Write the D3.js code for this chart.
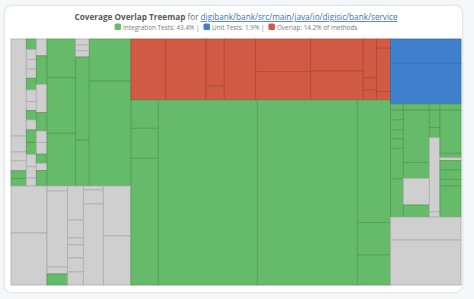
<!DOCTYPE html>
<html>
<head>
<meta charset="utf-8">
<script src="https://cdn.jsdelivr.net/npm/d3@7"></script>
<style>
  html, body { margin: 0; padding: 0; background: #f6f7f9; }
  body { width: 474px; height: 299px; overflow: hidden; font-family: "Open Sans", "Noto Sans", sans-serif; }
  .card { position: absolute; left: 5px; top: 6px; width: 457px; height: 286px; background: #fff;
          border-radius: 7px; box-shadow: 0 0 3px rgba(0,0,0,0.18); }
  svg { position: absolute; left: 0; top: 0; }
</style>
</head>
<body>
<div class="card"></div>
<div id="chart"></div>
<script>
// status codes: I = integration only, U = unit only, O = both (overlap), N = not covered
const statusColor = {I: "#66bb6a", U: "#3f80cc", O: "#d05a42", N: "#cfcfcf"};

const titleText = "Coverage Overlap Treemap";
const titlePath = "digibank/bank/src/main/java/io/digisic/bank/service";
const legendItems = [
    {key: "I", label: "Integration Tests: 43.4% |"},
    {key: "U", label: "Unit Tests: 1.9% |"},
    {key: "O", label: "Overlap: 14.2% of methods"}
];

// method weights, grouped by class -> column of methods
const leftTop = [
    [[371,'N'],[61,'N'],[34,'N'],[38,'N'],[29,'I'],[29,'I']],
    [[26,'I'],[25,'N'],[24,'N'],[23,'N'],[29,'I'],[29,'N'],[23,'N'],[23,'I'],[25,'N'],[31,'I'],[30,'I'],[31,'N'],[28,'N'],[20,'N']],
    [[45,'N'],[76,'I'],[76,'N'],[49,'I'],[31,'N'],[31,'N'],[24,'I'],[20,'N'],[41,'I']],
    [[278,'I'],[399,'I'],[378,'I']],
    [[20,'N'],[20,'N'],[21,'N'],[281,'I'],[156,'I']],
    [[438,'I'],[1095,'I']]
];
const leftBottom = [
    [[423,'N'],[468,'N']],
    [[26,'N'],[393,'N'],[36,'N'],[57,'I']],
    [[133,'N'],[70,'N'],[27,'N'],[51,'N'],[55,'N'],[51,'N']],
    [[20,'N'],[70,'N'],[405,'N']],
    [[346,'N'],[339,'N']]
];
const midTop = [
    [[529,'O']],
    [[615,'O']],
    [[214,'O'],[65,'O']],
    [[479,'O']],
    [[447,'O'],[392,'O']],
    [[421,'O'],[381,'O']],
    [[130,'O'],[41,'O'],[34,'O']],
    [[32,'O'],[150,'O'],[29,'O']]
];
const midBottom = [
    [[193,'I'],[205,'I'],[865,'I']],
    [[4579,'I']],
    [[4625,'I']],
    [[1018,'I'],[268,'I'],[249,'I']]
];
const rightTop = [[428,'U'],[717,'U']];
const rightMid = [
    [[19,'I'],[32,'I'],[32,'I'],[29,'I'],[30,'I'],[98,'I'],[122,'I']],
    [[39,'I'],[343,'I'],[101,'I'],[174,'N'],[78,'I']],
    [[16,'I'],[47,'I'],[27,'I'],[198,'N'],[14,'N']],
    [[32,'I'],[227,'I'],[23,'I'],[16,'N'],[49,'I'],[49,'I'],[35,'I'],[163,'I']]
];
const rightBottom = [[405,'N'],[793,'N']];

const leaf = ([v, s]) => ({value: v, status: s});
const col = list => ({dir: "v", children: list.map(leaf)});
const row = cols => ({dir: "h", children: cols.map(col)});

const tree = {
    dir: "h",
    children: [
        {dir: "v", children: [row(leftTop), row(leftBottom)]},
        {dir: "v", children: [row(midTop), row(midBottom)]},
        {dir: "v", children: [...rightTop.map(leaf), row(rightMid), ...rightBottom.map(leaf)]}
    ]
};

const W = 474, H = 299;
const margin = {top: 39, right: 13, bottom: 14, left: 11};
const innerW = W - margin.left - margin.right;
const innerH = H - margin.top - margin.bottom;

const svg = d3.select("#chart").append("svg")
    .attr("width", W)
    .attr("height", H);

// title
const title = svg.append("text")
    .attr("x", 236)
    .attr("y", 20)
    .attr("text-anchor", "middle")
    .style("font-size", "8.2px");
title.append("tspan").text(titleText).attr("font-weight", 700).attr("fill", "#5a5a5a");
title.append("tspan").text(" for ").attr("fill", "#707070");
title.append("tspan").text(titlePath).attr("fill", "#3b6fc0").attr("text-decoration", "underline");

// legend
const legend = svg.append("g").attr("class", "legend");
let lx = 0;
legendItems.forEach(function(d) {
    let g = legend.append("g").attr("transform", `translate(${lx},0)`);
    g.append("rect")
        .attr("x", 0).attr("y", -6)
        .attr("width", 6.5).attr("height", 6.5)
        .attr("rx", 1.5)
        .attr("fill", statusColor[d.key]);
    let t = g.append("text")
        .attr("x", 8.5).attr("y", 0)
        .style("font-size", "6.4px")
        .attr("fill", "#7a7a7a")
        .text(d.label);
    lx += 8.5 + t.node().getComputedTextLength() + 4;
});
legend.attr("transform", `translate(${236 - (lx - 4) / 2},29.5)`);

// treemap
const root = d3.hierarchy(tree).sum(d => d.value || 0);

const tile = (node, x0, y0, x1, y1) =>
    (node.data.dir === "h" ? d3.treemapDice : d3.treemapSlice)(node, x0, y0, x1, y1);

d3.treemap()
    .tile(tile)
    .size([innerW, innerH])(root);

const plot = svg.append("g")
    .attr("transform", `translate(${margin.left},${margin.top})`);

plot.selectAll("rect")
    .data(root.leaves())
    .enter()
    .append("rect")
    .attr("x", d => d.x0)
    .attr("y", d => d.y0)
    .attr("width", d => d.x1 - d.x0)
    .attr("height", d => d.y1 - d.y0)
    .attr("fill", d => statusColor[d.data.status])
    .attr("stroke", d => d3.color(statusColor[d.data.status]).darker(0.5))
    .attr("stroke-width", 0.8);
</script>
</body>
</html>
